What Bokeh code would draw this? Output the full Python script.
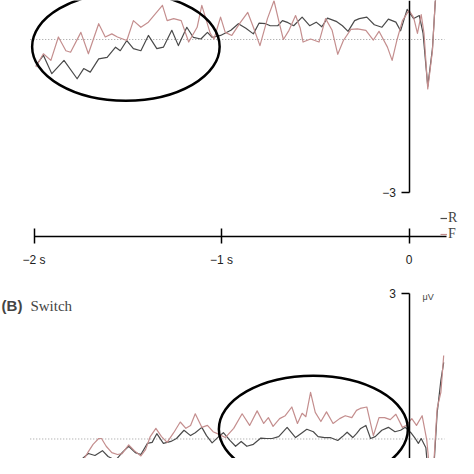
from bokeh.plotting import figure
from bokeh.models import Range1d, LinearAxis, FixedTicker, Legend, LegendItem, Label
from bokeh.embed import file_html
from bokeh.resources import INLINE

# ---------------- data (time in ms, amplitude in µV) ----------------
# Panel A (top, partially visible)
top_F_t = [-1990, -1950, -1910, -1870, -1830, -1805, -1750, -1710, -1655, -1620, -1585, -1555,
           -1505, -1470, -1430, -1390, -1315, -1290, -1255, -1215, -1175, -1130, -1105, -1060,
           -1040, -1005, -980, -945, -900, -860, -830, -795, -755, -720, -695, -670, -640, -605,
           -580, -565, -525, -480, -445, -410, -380, -350, -310, -275, -230, -190, -160, -115,
           -90, -65, -35, 0, 25, 45, 65, 80, 100, 125, 140, 155]
top_F_v = [-0.54, -0.28, -0.41, 0.05, -0.22, -0.25, 0.14, -0.28, 0.31, 0.05, 0.11, 0.05,
           -0.02, 0.37, 0.24, 0.34, 0.67, 0.37, 0.41, 0.37, -0.05, 0.24, 0.67, 0.12,
           0.01, 0.44, 0.14, 0.08, 0.33, 0.53, 0.24, -0.12, 0.41, 0.76, 0.37, 0.00, 0.18, 0.47,
           0.22, -0.05, 0.01, -0.05, 0.41, 0.18, -0.29, -0.02, 0.20, 0.21, 0.18, -0.01, 0.16, -0.15,
           -0.41, -0.02, 0.37, 0.57, 0.43, 0.12, 0.49, 0.12, -0.97, -0.22, 0.76, 1.16]

top_R_t = [-1990, -1950, -1905, -1840, -1770, -1735, -1700, -1655, -1610, -1565, -1540, -1505,
           -1470, -1430, -1390, -1345, -1310, -1265, -1230, -1185, -1150, -1110, -1075, -1050,
           -1005, -950, -910, -870, -830, -800, -765, -740, -700, -675, -645, -615, -570, -530,
           -495, -465, -435, -385, -355, -325, -290, -265, -225, -185, -145, -110, -70, -45,
           -10, 25, 55, 75, 100, 125, 140, 155]
top_R_v = [-0.51, -0.31, -0.67, -0.41, -0.77, -0.57, -0.64, -0.38, -0.35, -0.15, -0.22, -0.02,
           -0.18, -0.22, 0.08, -0.18, -0.15, 0.18, -0.12, 0.24, 0.04, 0.01, 0.14, 0.04,
           0.08, 0.18, 0.31, 0.22, 0.11, 0.32, 0.31, 0.27, 0.27, 0.37, 0.33, 0.27, 0.44, 0.27,
           0.34, 0.25, 0.42, 0.35, 0.27, 0.16, 0.37, 0.41, 0.44, 0.29, 0.24, 0.40, 0.34, 0.17,
           0.59, 0.41, 0.47, 0.12, -0.92, -0.18, 0.73, 1.16]

# Panel B: Switch
bot_F_t = [-2000, -1965, -1940, -1900, -1870, -1850, -1820, -1795, -1765, -1735, -1710, -1685,
           -1655, -1640, -1615, -1585, -1555, -1530, -1495, -1465, -1430, -1405, -1380, -1350,
           -1320, -1290, -1255, -1220, -1190, -1165, -1140, -1105, -1075, -1045, -1010, -980,
           -935, -890, -850, -810, -775, -750, -725, -690, -660, -625, -595, -570, -550, -525,
           -500, -470, -440, -405, -370, -340, -305, -280, -260, -225, -205, -190, -160, -130,
           -100, -70, -35, -15, 15, 40, 70, 95, 115, 130, 150, 170, 185]
bot_F_v = [-0.48, -0.42, -0.65, -0.69, -0.61, -0.59, -0.67, -0.57, -0.48, -0.42, -0.26, -0.11,
           0.01, 0.01, -0.15, -0.28, -0.32, -0.30, -0.12, -0.24, -0.35, -0.22, 0.05, 0.22,
           0.05, -0.07, 0.13, 0.35, 0.22, 0.28, 0.52, 0.24, 0.28, 0.15, 0.09, 0.03,
           0.22, 0.52, 0.28, 0.58, 0.32, 0.44, 0.26, 0.42, 0.48, 0.66, 0.32, 0.53, 0.46, 0.96,
           0.55, 0.36, 0.56, 0.32, 0.42, 0.48, 0.44, 0.59, 0.63, 0.66, 0.32, 0.07, 0.44, 0.44,
           0.40, 0.51, 0.24, 0.28, 0.42, 0.28, 0.48, -0.03, -0.86, -0.65, 0.63, 0.96, 1.72]

bot_R_t = [-2000, -1965, -1910, -1860, -1815, -1765, -1710, -1675, -1635, -1605, -1565, -1530,
           -1495, -1460, -1430, -1395, -1370, -1345, -1310, -1270, -1240, -1200, -1165, -1140,
           -1105, -1080, -1050, -1015, -990, -955, -925, -895, -865, -830, -790, -760, -730,
           -695, -650, -605, -570, -545, -510, -485, -450, -420, -380, -355, -330, -300, -280,
           -260, -230, -205, -180, -145, -110, -75, -45, -20, 10, 30, 50, 65, 90, 105, 130,
           150, 170, 185]
bot_R_v = [-0.65, -0.57, -0.69, -0.59, -0.71, -0.48, -0.30, -0.34, -0.24, -0.36, -0.44, -0.28,
           -0.15, -0.28, -0.32, -0.09, -0.07, 0.11, -0.09, -0.05, 0.01, 0.18, 0.07, 0.13,
           0.24, 0.07, -0.08, 0.05, 0.13, -0.03, -0.15, -0.05, -0.15, -0.11, 0.02, 0.01, 0.01,
           0.05, 0.24, 0.03, 0.13, 0.20, 0.15, 0.05, 0.03, 0.03, -0.03, 0.05, 0.14, 0.03, 0.11,
           0.21, 0.28, 0.01, 0.05, 0.18, 0.24, 0.15, 0.18, 0.24, 0.13, 0.03, -0.09, 0.01, -0.18,
           -0.86, -0.75, 0.53, 1.21, 1.58]

# highlighted windows (ellipses): centre time, centre amplitude, duration, amplitude span
top_ell = dict(t=[-1510], v=[-0.14], w=[1000], h=[2.12])
bot_ell = dict(t=[-510], v=[0.20], w=[1008], h=[2.21])

epoch = [-2020, 190]          # baseline extent (ms)
time_ticks = [-2000, -1000, 0]
time_labels = ["\u22122 s", "\u22121 s", "0"]
series_labels = ["R", "F"]

COL_R = "#4a4a4a"
COL_F = "#c48e8e"

# ---------------- figure ----------------
p = figure(width=458, height=458, x_range=Range1d(-2178.7, 264), y_range=Range1d(-8.2157, 0.7647),
           output_backend="svg", toolbar_location=None, x_axis_location=None, y_axis_location=None,
           min_border=0, outline_line_color=None)
p.extra_y_ranges = {"bottom": Range1d(-0.4021, 9.0412)}
p.grid.visible = False

def style_axis(ax):
    ax.minor_tick_line_color = None
    ax.axis_line_width = 1.5
    ax.major_tick_line_width = 1.5
    ax.major_label_text_font = "Liberation Sans"
    ax.major_label_text_font_size = "12px"
    ax.major_label_text_color = "#222222"

# time axis of panel A
xa = LinearAxis(fixed_location=-3.863, bounds=(-2000, 200), ticker=FixedTicker(ticks=time_ticks),
                major_label_overrides=dict(zip(time_ticks, time_labels)),
                major_tick_in=8, major_tick_out=7, major_label_standoff=9)
style_axis(xa)
p.add_layout(xa, "below")

# amplitude axis of panel A
ya1 = LinearAxis(fixed_location=0, bounds=(-3, 0.77), ticker=FixedTicker(ticks=[-3]),
                 major_label_overrides={-3: "\u22123"}, major_tick_in=0, major_tick_out=8,
                 major_label_standoff=5)
style_axis(ya1)
p.add_layout(ya1, "left")

# amplitude axis of panel B
ya2 = LinearAxis(y_range_name="bottom", fixed_location=0, bounds=(-0.41, 3), ticker=FixedTicker(ticks=[3]),
                 major_tick_in=0, major_tick_out=8, major_label_standoff=5)
style_axis(ya2)
p.add_layout(ya2, "left")

# baselines
p.line(epoch, [0, 0], line_color="#9a9a9a", line_width=1, line_dash="1 2")
p.line(epoch, [0, 0], line_color="#9a9a9a", line_width=1, line_dash="1 2", y_range_name="bottom")

# waveforms
rR = p.line(top_R_t, top_R_v, line_color=COL_R, line_width=1.2, line_join="round")
rF = p.line(top_F_t, top_F_v, line_color=COL_F, line_width=1.2, line_join="round")
p.line(bot_R_t, bot_R_v, line_color=COL_R, line_width=1.2, line_join="round", y_range_name="bottom")
p.line(bot_F_t, bot_F_v, line_color=COL_F, line_width=1.2, line_join="round", y_range_name="bottom")

# ellipses
p.ellipse(x=top_ell["t"], y=top_ell["v"], width=top_ell["w"], height=top_ell["h"],
          fill_color=None, line_color="black", line_width=2.5)
p.ellipse(x=bot_ell["t"], y=bot_ell["v"], width=bot_ell["w"], height=bot_ell["h"],
          fill_color=None, line_color="black", line_width=2.5, y_range_name="bottom")

# legend (one entry per legend so the rows can sit close together)
def make_legend(label, renderer, loc):
    return Legend(items=[LegendItem(label=label, renderers=[renderer])],
                  location=loc, glyph_width=7, glyph_height=16, label_height=16,
                  label_standoff=1, padding=0, spacing=0, margin=0,
                  border_line_color=None, background_fill_alpha=0,
                  label_text_font="Liberation Serif", label_text_font_size="14px",
                  label_text_baseline="alphabetic")

p.add_layout(make_legend(series_labels[0], rR, (440, 232)), "center")
p.add_layout(make_legend(series_labels[1], rF, (440, 216)), "center")

# panel titles / unit
p.add_layout(Label(x=-2173, y=2.75, y_range_name="bottom", text="(B)", text_align="left",
                   text_baseline="alphabetic", text_font="Liberation Sans", text_font_style="bold",
                   text_font_size="15px"))
p.add_layout(Label(x=-2019, y=2.75, y_range_name="bottom", text="Switch", text_baseline="alphabetic",
                   text_font="Liberation Serif", text_font_size="15px"))
p.add_layout(Label(x=72, y=2.92, y_range_name="bottom", text="\u03bcV", text_baseline="alphabetic",
                   text_font="Liberation Sans", text_font_size="9px"))

open("out.html", "w").write(file_html(p, INLINE))
